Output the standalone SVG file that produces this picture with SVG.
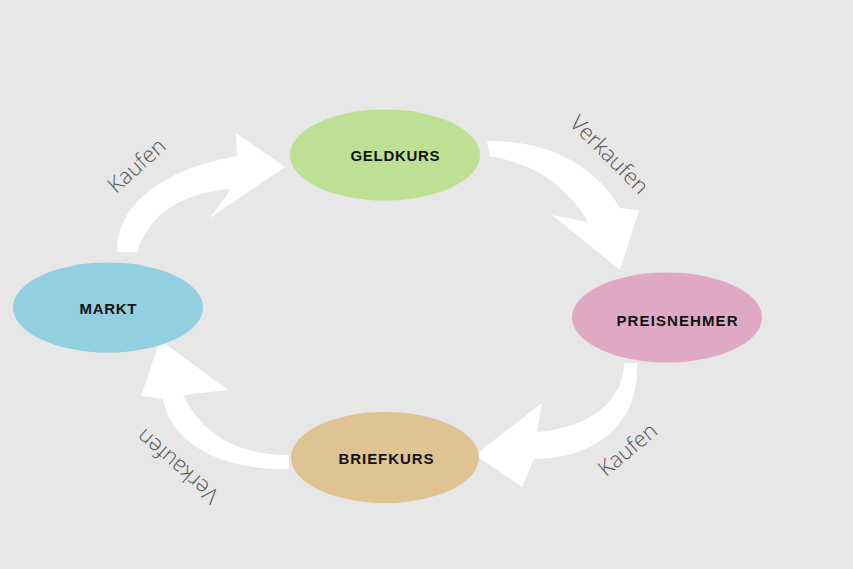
<svg xmlns="http://www.w3.org/2000/svg" width="853" height="569" viewBox="0 0 853 569">
<style>
.bg{fill:#e8e7e7}
.lbl{font-family:"Liberation Sans",Arial,sans-serif;font-weight:bold;font-size:15px;fill:#121212;text-anchor:middle}
.edge{font-family:"Open Sans","Liberation Sans",sans-serif;font-weight:300;font-size:22px;fill:#555;text-anchor:middle}
.arrow{fill:#ffffff}
</style>
<rect class="bg" x="0" y="0" width="853" height="569"/>
<g id="connectors">
<path class="arrow" d="M117,252 C117,205 160,170 237,156 L236,133 L285,167 L210,218 L231,189 C185,192 150,212 137,252 Z"/>
<path class="arrow" d="M487,141 C540,140 592,160 620,208 L639,210 L620,270 L552,215 L588,222 C570,190 540,165 490,156 Z"/>
<path class="arrow" d="M624,363 C624,400 590,428 537,432 L542,403 L475,455 L522,487 L534,459 C600,458 640,420 637,363 Z"/>
<path class="arrow" d="M289,455 C245,455 205,440 183,395 L228,390 L160,340 L141,396 L163,399 C170,440 215,470 289,469 Z"/>
<text class="edge" transform="translate(137,166) rotate(-42)" y="7">Kaufen</text>
<text class="edge" transform="translate(609,155) rotate(45)" y="7">Verkaufen</text>
<text class="edge" transform="translate(628,450) rotate(-40)" y="7">Kaufen</text>
<text class="edge" transform="translate(178,466) rotate(221)" y="7">Verkaufen</text>
</g>
<g id="node-geldkurs">
<ellipse cx="385" cy="155" rx="95" ry="45.5" fill="#bee095"/>
<text class="lbl" x="395" y="161" textLength="89" lengthAdjust="spacing">GELDKURS</text>
</g>
<g id="node-markt">
<ellipse cx="108" cy="307.5" rx="95" ry="45" fill="#92cfe0"/>
<text class="lbl" x="108" y="314" textLength="57" lengthAdjust="spacing">MARKT</text>
</g>
<g id="node-preisnehmer">
<ellipse cx="667" cy="317.5" rx="95" ry="45" fill="#e0a9c3"/>
<text class="lbl" x="677" y="326" textLength="121" lengthAdjust="spacing">PREISNEHMER</text>
</g>
<g id="node-briefkurs">
<ellipse cx="385" cy="457.5" rx="94" ry="45.5" fill="#e0c392"/>
<text class="lbl" x="386" y="464" textLength="95" lengthAdjust="spacing">BRIEFKURS</text>
</g>
</svg>
